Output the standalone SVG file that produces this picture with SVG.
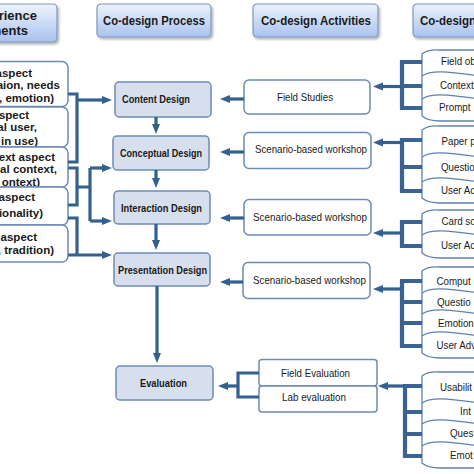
<svg xmlns="http://www.w3.org/2000/svg" width="474" height="474" viewBox="0 0 474 474">
<style>
.hdr{fill:url(#hg);stroke:#7E96BE;stroke-width:1.2}
.hdt{font-family:"Liberation Sans",Arial,sans-serif;font-weight:bold;font-size:13px;fill:#1a1a1a}
.proc{fill:#D7DFED;stroke:#6C8BB6;stroke-width:1.5}
.pt{font-family:"Liberation Sans",Arial,sans-serif;font-weight:bold;font-size:11px;fill:#1a1a1a}
.act{fill:#fff;stroke:#6C8BB6;stroke-width:1.5}
.at{font-family:"Liberation Sans",Arial,sans-serif;font-size:11px;fill:#1a1a1a}
.el{fill:#fff;stroke:#6C8BB6;stroke-width:1.5}
.et{font-family:"Liberation Sans",Arial,sans-serif;font-weight:bold;font-size:11.5px;fill:#1a1a1a}
.doc{fill:#fff;stroke:#5F80AE;stroke-width:1.3}
.dt{font-family:"Liberation Sans",Arial,sans-serif;font-size:11.5px;fill:#1a1a1a}
.c{fill:none;stroke:#33608F;stroke-width:3.2}
.cb{fill:none;stroke:#3A6394;stroke-width:4.2}
</style>
<defs>
<linearGradient id="hg" x1="0" y1="0" x2="0" y2="1">
<stop offset="0" stop-color="#EEF3FC"/>
<stop offset="1" stop-color="#A9C2EE"/>
</linearGradient>
<filter id="sh" x="-10%" y="-10%" width="130%" height="150%">
<feDropShadow dx="1.5" dy="2" stdDeviation="1.2" flood-color="#000" flood-opacity="0.3"/>
</filter>
<marker id="ah" viewBox="0 0 10 10" markerUnits="userSpaceOnUse" markerWidth="10" markerHeight="10" refX="4" refY="5" orient="auto">
<path d="M0,1 L10,5 L0,9 z" fill="#33608F"/>
</marker>
</defs>
<rect width="474" height="474" fill="#fff"/>

<g id="headers">
<g id="h-experience">
<rect class="hdr" x="-60" y="4" width="117" height="38" rx="4" filter="url(#sh)"/>
<text class="hdt" x="37" y="20" text-anchor="end">erience</text>
<text class="hdt" x="28" y="35" text-anchor="end">ments</text>
</g>
<g id="h-process">
<rect class="hdr" x="97" y="4" width="114" height="33" rx="4" filter="url(#sh)"/>
<text class="hdt" x="103" y="25" textLength="102" lengthAdjust="spacingAndGlyphs">Co-design Process</text>
</g>
<g id="h-activities">
<rect class="hdr" x="253" y="4" width="125" height="33" rx="4" filter="url(#sh)"/>
<text class="hdt" x="261" y="25" textLength="110" lengthAdjust="spacingAndGlyphs">Co-design Activities</text>
</g>
<g id="h-methods">
<rect class="hdr" x="413" y="4" width="80" height="33" rx="4" filter="url(#sh)"/>
<text class="hdt" x="420" y="25" textLength="56" lengthAdjust="spacingAndGlyphs">Co-design</text>
</g>
</g>

<g id="elements">
<g id="el-user">
<rect class="el" x="-20" y="61.5" width="88" height="45" rx="6"/>
<text class="et" x="32" y="76.5" text-anchor="end">aspect</text>
<text class="et" x="60" y="88.5" text-anchor="end">aion, needs</text>
<text class="et" x="54" y="101.5" text-anchor="end">, emotion)</text>
</g>
<g id="el-product">
<rect class="el" x="-20" y="107" width="88" height="40" rx="6"/>
<text class="et" x="29" y="119" text-anchor="end">spect</text>
<text class="et" x="37" y="131" text-anchor="end">al user,</text>
<text class="et" x="38" y="144.5" text-anchor="end">r in use)</text>
</g>
<g id="el-context">
<rect class="el" x="-20" y="147" width="88" height="40" rx="6"/>
<text class="et" x="55" y="160.5" text-anchor="end">text aspect</text>
<text class="et" x="57" y="172.5" text-anchor="end">cal context,</text>
<text class="et" x="40" y="185.5" text-anchor="end">ontext)</text>
</g>
<g id="el-function">
<rect class="el" x="-20" y="187" width="88" height="38" rx="6"/>
<text class="et" x="35" y="200.5" text-anchor="end">aspect</text>
<text class="et" x="43" y="216.5" text-anchor="end">ionality)</text>
</g>
<g id="el-culture">
<rect class="el" x="-20" y="225" width="88" height="37" rx="6"/>
<text class="et" x="37" y="240.5" text-anchor="end">aspect</text>
<text class="et" x="54" y="254" text-anchor="end">, tradition)</text>
</g>
</g>

<g id="process">
<g id="p-content">
<rect class="proc" x="115" y="82" width="96" height="35" rx="4"/>
<text class="pt" x="122" y="103" textLength="68" lengthAdjust="spacingAndGlyphs">Content Design</text>
</g>
<g id="p-conceptual">
<rect class="proc" x="113" y="136" width="96" height="34" rx="4"/>
<text class="pt" x="120" y="157" textLength="82" lengthAdjust="spacingAndGlyphs">Conceptual Design</text>
</g>
<g id="p-interaction">
<rect class="proc" x="114" y="191" width="96" height="33" rx="4"/>
<text class="pt" x="121" y="212" textLength="81" lengthAdjust="spacingAndGlyphs">Interaction Design</text>
</g>
<g id="p-presentation">
<rect class="proc" x="114" y="253" width="96" height="33" rx="4"/>
<text class="pt" x="118" y="274" textLength="89" lengthAdjust="spacingAndGlyphs">Presentation Design</text>
</g>
<g id="p-evaluation">
<rect class="proc" x="116" y="366" width="97" height="34" rx="4"/>
<text class="pt" x="140" y="387" textLength="47" lengthAdjust="spacingAndGlyphs">Evaluation</text>
</g>
</g>

<g id="activities">
<g id="a-field">
<rect class="act" x="244" y="80" width="126" height="34" rx="5"/>
<text class="at" x="277" y="101" textLength="56" lengthAdjust="spacingAndGlyphs">Field Studies</text>
</g>
<g id="a-scen1">
<rect class="act" x="244" y="132.5" width="127" height="36" rx="5"/>
<text class="at" x="255" y="152.5" textLength="112" lengthAdjust="spacingAndGlyphs">Scenario-based workshop</text>
</g>
<g id="a-scen2">
<rect class="act" x="244" y="199.5" width="127" height="35.5" rx="5"/>
<text class="at" x="253" y="221" textLength="114" lengthAdjust="spacingAndGlyphs">Scenario-based workshop</text>
</g>
<g id="a-scen3">
<rect class="act" x="243" y="262.5" width="127" height="36" rx="5"/>
<text class="at" x="253" y="284" textLength="113" lengthAdjust="spacingAndGlyphs">Scenario-based workshop</text>
</g>
<g id="a-fieldeval">
<rect class="act" x="259" y="359.5" width="118" height="26.5" rx="3"/>
<text class="at" x="281" y="376.5" textLength="69" lengthAdjust="spacingAndGlyphs">Field Evaluation</text>
</g>
<g id="a-labeval">
<rect class="act" x="259" y="386" width="118" height="26" rx="3"/>
<text class="at" x="282" y="401" textLength="64" lengthAdjust="spacingAndGlyphs">Lab evaluation</text>
</g>
</g>

<g id="methods">
<g id="m-g1">
<path class="doc" d="M422,54 Q428,49 440,50 L480,50 L480,121 L440,121 Q428,121 422,116 Z"/>
<path class="doc" d="M422,76 C430,70 446,71 480,76"/>
<path class="doc" d="M422,99 C430,93 446,94 480,99"/>
<g transform="scale(0.85,1)">
<text class="dt" x="518.8" y="65">Field ob</text>
<text class="dt" x="517.6" y="89">Context</text>
<text class="dt" x="516.5" y="111">Prompt</text>
</g>
</g>
<g id="m-g2">
<path class="doc" d="M422,130 Q428,125 440,126 L480,126 L480,203 L440,203 Q428,203 422,198 Z"/>
<path class="doc" d="M422,157 C430,151 446,152 480,157"/>
<path class="doc" d="M422,182 C430,176 446,177 480,182"/>
<g transform="scale(0.85,1)">
<text class="dt" x="519.4" y="145">Paper p</text>
<text class="dt" x="518.8" y="171.5">Questio</text>
<text class="dt" x="518.8" y="194">User Ac</text>
</g>
</g>
<g id="m-g3">
<path class="doc" d="M422,214 Q428,209 440,210 L480,210 L480,258 L440,258 Q428,258 422,253 Z"/>
<path class="doc" d="M422,235 C430,229 446,230 480,235"/>
<g transform="scale(0.85,1)">
<text class="dt" x="519.4" y="225">Card so</text>
<text class="dt" x="518.8" y="249">User Ac</text>
</g>
</g>
<g id="m-g4">
<path class="doc" d="M422,271 Q428,266 440,267 L480,267 L480,358 L440,358 Q428,358 422,353 Z"/>
<path class="doc" d="M422,293 C430,287 446,288 480,293"/>
<path class="doc" d="M422,314 C430,308 446,309 480,314"/>
<path class="doc" d="M422,336 C430,330 446,331 480,336"/>
<g transform="scale(0.85,1)">
<text class="dt" x="513.5" y="285">Comput</text>
<text class="dt" x="514.1" y="306">Questio</text>
<text class="dt" x="515.3" y="327">Emotion</text>
<text class="dt" x="513.5" y="349">User Adv</text>
</g>
</g>
<g id="m-g5">
<path class="doc" d="M422,376 Q428,371 440,372 L480,372 L480,468 L440,468 Q428,468 422,463 Z"/>
<path class="doc" d="M422,403 C430,397 446,398 480,403"/>
<path class="doc" d="M422,424 C430,418 446,419 480,424"/>
<path class="doc" d="M422,446 C430,440 446,441 480,446"/>
<g transform="scale(0.85,1)">
<text class="dt" x="517.6" y="391">Usabilit</text>
<text class="dt" x="541.2" y="415">Int</text>
<text class="dt" x="529.4" y="437.5">Ques</text>
<text class="dt" x="529.4" y="459">Emot</text>
</g>
</g>
</g>

<g id="connectors">
<path class="c" d="M68,94 H77 V162 H68"/>
<path class="c" d="M77,100 H106" marker-end="url(#ah)"/>
<path class="c" d="M68,168 H77 V205 H68"/>
<path class="c" d="M77,187 H90 M90,168 V221"/>
<path class="c" d="M90,168 H106" marker-end="url(#ah)"/>
<path class="c" d="M90,221 H106" marker-end="url(#ah)"/>
<path class="c" d="M68,218 H77 V255"/>
<path class="c" d="M68,255 H106" marker-end="url(#ah)"/>
<path class="c" d="M156,117 V128" marker-end="url(#ah)"/>
<path class="c" d="M156,170 V182" marker-end="url(#ah)"/>
<path class="c" d="M156,224 V244" marker-end="url(#ah)"/>
<path class="c" d="M157,286 V357" marker-end="url(#ah)"/>
<path class="c" d="M244,99 H226" marker-end="url(#ah)"/>
<path class="c" d="M244,152 H226" marker-end="url(#ah)"/>
<path class="c" d="M244,218 H226" marker-end="url(#ah)"/>
<path class="c" d="M243,282 H226" marker-end="url(#ah)"/>
<path class="c" d="M259,373 H238 V397 H259"/>
<path class="c" d="M238,386 H224" marker-end="url(#ah)"/>
<path class="cb" d="M422,62 H402 V108 H422 M402,86 H422"/>
<path class="c" d="M402,86.5 H379" marker-end="url(#ah)"/>
<path class="cb" d="M422,140 H402 V191 H422 M402,167 H422"/>
<path class="c" d="M402,142.5 H379" marker-end="url(#ah)"/>
<path class="cb" d="M422,222 H402 V246 H422"/>
<path class="c" d="M402,233 H379" marker-end="url(#ah)"/>
<path class="cb" d="M422,281 H402 V346 H422 M402,302 H422 M402,323 H422"/>
<path class="c" d="M402,289 H379" marker-end="url(#ah)"/>
<path class="cb" d="M422,386 H405 V456 H422 M405,412 H422 M405,434 H422"/>
<path class="c" d="M405,386 H384" marker-end="url(#ah)"/>
</g>
</svg>
